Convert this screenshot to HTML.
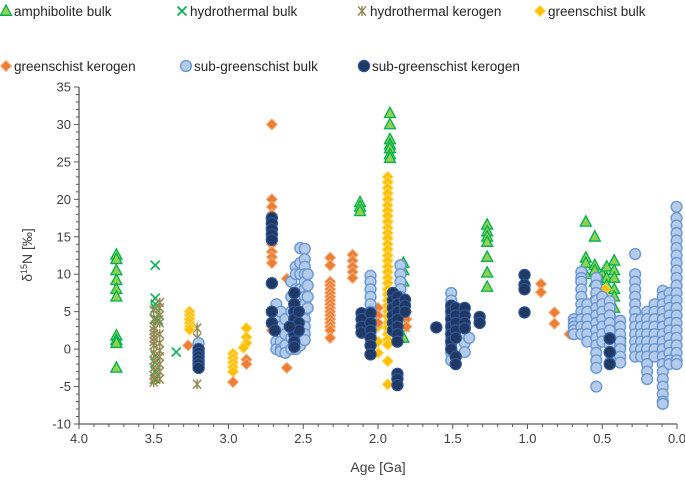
<!DOCTYPE html>
<html><head><meta charset="utf-8"><style>
body{margin:0;background:#fff;}
svg{display:block;font-family:"Liberation Sans",sans-serif;}
</style></head><body>
<svg id="chart" width="685" height="480" viewBox="0 0 685 480" xmlns="http://www.w3.org/2000/svg">
<g id="legend"></g>
<g id="axes"></g>
<g id="marks"></g>
<text x="378" y="472" text-anchor="middle" font-size="14" fill="#404040">Age [Ga]</text>
<text transform="translate(32,255) rotate(-90)" text-anchor="middle" font-size="14" fill="#404040">δ<tspan font-size="9" dy="-5">15</tspan><tspan dy="5">N [‰]</tspan></text>
</svg>
<script>
const xTicks=[4.0,3.5,3.0,2.5,2.0,1.5,1.0,0.5,0.0];
const yTicks=[35,30,25,20,15,10,5,0,-5,-10];
const seriesNames=["amphibolite bulk","hydrothermal bulk","hydrothermal kerogen","greenschist bulk","greenschist kerogen","sub-greenschist bulk","sub-greenschist kerogen"];
const amphiboliteBulk=[[3.75,[12.6,12,10.5,9.2,8,7,1.8,1.2,0.8,-2.5]],[2.12,[19.6,19,18.4]],[1.92,[31.5,30,28,27.3,26.8,26,25.5]],[1.83,[11.5,10.5,9,7,5,3,1.5]],[1.27,[16.6,15.7,15,14.3,12.3,10.2,8.3]],[0.61,[17,12.2,11.5,10]],[0.55,[15,11.2,10.5,9,7,5]],[0.5,[10,9,8,6,4,2]],[0.47,[11,9.5,8.5,7,5,3]],[0.42,[11.8,10.5,9.5,8,7,5.5,4,3]],[0.38,[2,1]],[0.12,[5.8,5]]];
const hydrothermalBulk=[[3.49,[11.2,6.8,6,5.5,4,-0.9,-1.8,-3,-4]],[3.47,[3.9]],[3.35,[-0.4]]];
const hydrothermalKerogen=[[3.5,[5.2,4,3,2.5,2,1.5,1,0.5,-0.5,-1.5,-2.5,-3.5,-4,-4.4]],[3.46,[6.2,5.5,4.5,3.5,2,0.8,-0.2,-1,-2,-3,-4]],[3.21,[2.8,1.5,-4.7]]];
const greenschistBulk=[[3.26,[5,4.5,4,3.5,3,2.6]],[2.97,[-0.6,-1.2,-1.8,-2.4,-3]],[2.88,[2.8,1.6,0.8]],[2.9,[0.2]],[1.935,[23,22.3,21.5,20.8,20,19.2,18.5,17.8,17,16.2,15.5,14.8,14,13.3,12.5,11.8,11,10.3,9.5,8.8,8,7.3,6.5,5.8,5,4.3,3.5,2.8,2,1.3,0.6,-1.6,-4.7]],[2.0,[3,1,-0.5]],[0.48,[8,7,6,5,4,3,2]]];
const greenschistKerogen=[[2.71,[30,20,19,18,17,15.8,14,13,12.3,11.5,5,3,2.5]],[2.61,[9.4,-2.5]],[3.27,[0.5]],[2.97,[-4.4]],[2.88,[-1.4,-2]],[2.32,[12.2,11.2,9,8.5,8,7.5,7,6.5,6,5.5,5,4.5,4,3.5,3,2.5,1.5]],[2.17,[12.6,11.8,11,10.3,9.5]],[2.0,[5.5,4.5,3.5]],[1.81,[5,4,3]],[0.91,[8.7,7.6]],[0.82,[4.9,3.4]],[0.72,[2]]];
const subBulk=[[3.2,[0.8,0,-1]],[2.68,[6,4,3,1,0]],[2.65,[5,3,1,0,-0.3]],[2.62,[4,2,0.5,-0.5]],[2.58,[9,7,5,3,1.5,0]],[2.55,[11,10,8,6,4,2,0]],[2.52,[13.5,11.5,10,8,6,4,2,0.5]],[2.49,[13.4,12,11,10,9,8,7,6,5,4,3,2,1.2]],[2.47,[10,8.5,7,5.5]],[2.05,[9.8,9,8,7,6,5,4,3,2]],[1.85,[11.2,10,9,8,7,6,5]],[1.51,[7.5,6.5,5.5,4.5,3.5,2.5,1.5,0.5,-0.5,-1.5]],[1.42,[2.8,1.8,0.8,-0.4]],[1.39,[1.5]],[0.69,[4,3.5,3,2.5,2]],[0.64,[10.3,9.5,9,8,7,6,5,4,3,2]],[0.6,[6,5,4,3,2,1]],[0.54,[9.5,8.5,7.5,6.5,5.5,4.5,3.5,2.5,1.5,0.5,-0.5,-1.5,-2.5,-5]],[0.5,[7,6,5,4,3,2,1]],[0.45,[6.4,5.5,4.5,3.5,2.5,1.5,0.5,-0.5,-1.8]],[0.38,[3.8,3,2,1,0,-1,-1.8]],[0.28,[12.7,10,9,8,7,6,5,4,3,2,1,0,-1]],[0.24,[4,3,2,1,0,-1]],[0.2,[5,4,3,2,1,0,-1,-2,-3,-4]],[0.15,[6,5,4,3,2,1,0,-1]],[0.095,[7.8,7,6,5,4,3,2,1,0,-1,-2,-3,-4,-5,-6,-7,-7.3]],[0.05,[7.5,6.5,5.5,4.5,3.5,2.5,1.5,0.5,-0.5,-1.5,-2]],[0.003,[19,17.5,16.5,15.5,14.5,13.5,12.5,11.5,10.5,9.5,8.5,7.5,6.5,5.5,4.5,3.5,2.5,1.5,0.5,-0.5,-1.5,-2]]];
const subKerogen=[[3.2,[0,-0.5,-1,-1.5,-2,-2.5]],[2.71,[17.5,16.8,16,15.3,14.6,8.8,5,3.5]],[2.69,[2.5]],[2.56,[7.5,6,5,4,3,2,1,0.3]],[2.53,[5,3.5,2.5]],[2.59,[3]],[2.11,[4.8,4,3,2.2]],[2.05,[4.8,3.5,2.5,1.5,0.5,-0.7]],[1.9,[7.5,6.5,5.5,4.5,3.5,2.5]],[1.87,[7,6,5,4,3,2,1,-3.3,-4,-4.8]],[1.82,[6.6,5.8,5]],[1.61,[2.9]],[1.51,[5.8,5,4,3,2,1,0]],[1.48,[5.5,4.5,3.5,2.5,1.5,-1,-2]],[1.42,[5.5,4.5,3.5,2.8]],[1.32,[4.3,3.5]],[1.02,[9.9,8.6,8,4.9]],[0.45,[1.4,-0.4,-2]]];

const NS="http://www.w3.org/2000/svg";
const X0=79,X1=677,Y0=87,Y1=424;
function xs(a){return X0+(4-a)/4*(X1-X0);}
function ys(v){return Y0+(35-v)/45*(Y1-Y0);}
function mk(tag,attrs,parent){const e=document.createElementNS(NS,tag);for(const k in attrs)e.setAttribute(k,attrs[k]);parent.appendChild(e);return e;}
const axes=document.getElementById('axes');
let l=mk('line',{x1:X0,y1:Y0,x2:X0,y2:Y1,stroke:'#595959','stroke-width':1.3},axes);


l=mk('line',{x1:X0,y1:Y1,x2:X1,y2:Y1,stroke:'#595959','stroke-width':1.3},axes);


for(let v=-10;v<=35;v++){const y=ys(v);const maj=(v%5===0);mk('line',{x1:X0-(maj?5:3),y1:y,x2:X0,y2:y,stroke:'#595959','stroke-width':1},axes);}
for(let i=0;i<=40;i++){const x=xs(i/10);const maj=(i%5===0);mk('line',{x1:x,y1:Y1,x2:x,y2:Y1+(maj?5:3),stroke:'#595959','stroke-width':1},axes);}
yTicks.forEach(v=>{const t=mk('text',{x:X0-8,y:ys(v)+4.5,'text-anchor':'end','font-size':13,fill:'#404040'},axes);t.textContent=v;

});
xTicks.forEach(v=>{const t=mk('text',{x:xs(v),y:Y1+19,'text-anchor':'middle','font-size':13,fill:'#404040'},axes);t.textContent=v.toFixed(1);

});

function marker(type,x,y,p){
  let e;
  if(type==='tri'){e=mk('polygon',{points:`${x},${y-6} ${x-5.5},${y+4.3} ${x+5.5},${y+4.3}`,fill:'#92d050',stroke:'#00b050','stroke-width':1.3},p);}
  else if(type==='x'){e=mk('path',{d:`M${x-4.5},${y-4.5}L${x+4.5},${y+4.5}M${x-4.5},${y+4.5}L${x+4.5},${y-4.5}`,stroke:'#00b050','stroke-width':1.6,fill:'none'},p);}
  else if(type==='ast'){e=mk('path',{d:`M${x-4},${y-4.5}L${x+4},${y+4.5}M${x-4},${y+4.5}L${x+4},${y-4.5}M${x},${y-5}L${x},${y+5}`,stroke:'#948a54','stroke-width':1.5,fill:'none'},p);}
  else if(type==='dy'){e=mk('polygon',{points:`${x},${y-5.5} ${x+5.5},${y} ${x},${y+5.5} ${x-5.5},${y}`,fill:'#ffc000',stroke:'#ffd966','stroke-width':1},p);}
  else if(type==='do'){e=mk('polygon',{points:`${x},${y-5.5} ${x+5.5},${y} ${x},${y+5.5} ${x-5.5},${y}`,fill:'#ed7d31',stroke:'#f4b183','stroke-width':1},p);}
  else if(type==='cl'){e=mk('circle',{cx:x,cy:y,r:5.4,fill:'#b4cbea',stroke:'#6a98d4','stroke-width':1.4},p);}
  else {e=mk('circle',{cx:x,cy:y,r:5.6,fill:'#203864',stroke:'#2f5597','stroke-width':1.2},p);}
  return e;
}
const types=['tri','x','ast','dy','do','cl','cd'];
const allData=[amphiboliteBulk,hydrothermalBulk,hydrothermalKerogen,greenschistBulk,greenschistKerogen,subBulk,subKerogen];
const marks=document.getElementById('marks');
allData.forEach((ser,si)=>{
  const g=mk('g',{},marks);
  
  
  ser.forEach(col=>{col[1].forEach(v=>{
    const m=marker(types[si],xs(col[0]),ys(v),g);
    
    
  });});
});
const legPos=[[6,11],[182,11],[362,11],[540,11],[6,66],[186,66],[364,66]];
const leg=document.getElementById('legend');
seriesNames.forEach((n,i)=>{
  const g=mk('g',{},leg);
  
  
  marker(types[i],legPos[i][0],legPos[i][1],g);
  const t=mk('text',{x:legPos[i][0]+8,y:legPos[i][1]+5,'font-size':13.5,fill:'#262626'},g);
  t.textContent=n;
});
</script>
</body></html>
